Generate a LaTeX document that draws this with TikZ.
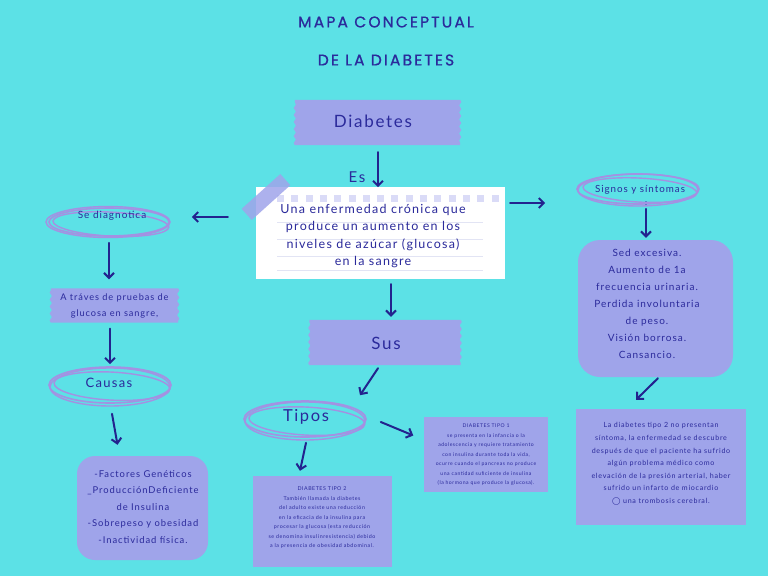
\documentclass[tikz,border=0pt]{standalone}
\usepackage{fontspec}
\setmainfont{Lato}
\newfontfamily\hand[LetterSpace=10]{Lato}
\newfontfamily\titlefont[LetterSpace=14,FakeBold=0.8]{Poppins}
\newfontfamily\symfont{DejaVu Sans}
\usetikzlibrary{arrows.meta,calc,shapes.geometric,decorations.pathmorphing}
\definecolor{bg}{HTML}{5CE1E6}
\definecolor{ink}{HTML}{2B2A9B}
\definecolor{arrowink}{HTML}{23238E}
\definecolor{boxc}{HTML}{9FA4EA}
\definecolor{ring}{HTML}{A491E2}
\definecolor{sqc}{HTML}{DADBF7}
\definecolor{rulec}{HTML}{E2E4F4}
\begin{document}
\begin{tikzpicture}[x=1pt,y=-1pt,
  every node/.style={text=ink, inner sep=0pt},
  arr/.style={draw=arrowink, line width=2pt, line cap=round,
    -{Straight Barb[length=5pt,width=10pt,line width=2pt]}},
  tapebox/.style={rectangle},
  wavy/.style={decoration={snake, amplitude=1.1pt, segment length=7pt}},
  roundbox/.style={fill=boxc, rectangle, rounded corners=18pt},
  flatbox/.style={fill=boxc, rectangle},
  ringnode/.style={ellipse, draw=ring, line width=1.6pt},
  ringextra/.style={draw=ring, line width=1.4pt}
]
\useasboundingbox (0,0) rectangle (768,576);
\fill[bg] (0,0) rectangle (768,576);

% title
\node[font=\titlefont\fontsize{15.5}{17}\selectfont] (t1) at (386,22) {MAPA CONCEPTUAL};
\node[font=\titlefont\fontsize{15.5}{17}\selectfont] (t2) at (386,60) {DE LA DIABETES};

% Diabetes
\node[tapebox, minimum width=165pt, minimum height=45pt] (diab) at (377.5,122.5) {};
\fill[boxc] (diab.north west) -- (diab.north east)
  decorate[wavy] {-- (diab.south east)} -- (diab.south west)
  decorate[wavy] {-- (diab.north west)} -- cycle;
\node[font=\hand\fontsize{17}{20}\selectfont] (diabt) at (373,121) {Diabetes};

% Es
\node[font=\hand\fontsize{15}{18}\selectfont] (es) at (357,177) {Es};

% note
\node[fill=white, minimum width=249pt, minimum height=92pt] (note) at (380.5,233) {};
\foreach \i in {0,...,15} {
  \fill[sqc] (277+14.3*\i,195) rectangle ++(7,7);
}
\foreach \yy in {222,239,256,270} {
  \draw[rulec, line width=0.8pt] (277,\yy) -- (483,\yy);
}
\node[fill=boxc, opacity=0.85, minimum width=52pt, minimum height=15pt, rotate=42] (tape) at (266,197) {};
\node[font=\hand\fontsize{12.5}{17.3}\selectfont, align=center] (notet) at (373,236)
  {Una enfermedad crónica que\\produce un aumento en los\\niveles de azúcar (glucosa)\\en la sangre};

% Se diagnotica
\node[ringnode, minimum width=120pt, minimum height=28pt] (sediag) at (109,222) {};
\draw[ringextra, rotate around={-3:(sediag.center)}] ($(sediag.center)+(2,2)$) ellipse [x radius=58pt, y radius=12pt];
\draw[ringextra] ($(sediag.center)+(-1,0)$) ellipse [x radius=62pt, y radius=15.5pt];
\node[font=\hand\fontsize{10}{12}\selectfont] (sediagt) at (112,216) {Se diagnotica};

% pruebas
\node[tapebox, minimum width=127pt, minimum height=34pt] (prueba) at (114.5,305.5) {};
\fill[boxc] (prueba.north west) -- (prueba.north east)
  decorate[wavy] {-- (prueba.south east)} -- (prueba.south west)
  decorate[wavy] {-- (prueba.north west)} -- cycle;
\node[font=\hand\fontsize{9.2}{16}\selectfont, align=center] (pruebat) at (114.5,306) {A tráves de pruebas de\\glucosa en sangre,};

% Causas
\node[ringnode, minimum width=122pt, minimum height=36pt] (causas) at (110,385) {};
\draw[ringextra, rotate around={-3:(causas.center)}] ($(causas.center)+(2,1)$) ellipse [x radius=58pt, y radius=14pt];
\draw[ringextra] ($(causas.center)+(0,2)$) ellipse [x radius=60pt, y radius=19pt];
\node[font=\hand\fontsize{13}{15}\selectfont] (causast) at (109,383) {Causas};

% causas box
\node[roundbox, minimum width=131pt, minimum height=104pt] (causasbox) at (142.5,508) {};
\node[font=\hand\fontsize{9.4}{16.5}\selectfont, align=center] (causasboxt) at (143,507)
  {-Factores Genéticos\\\_ProducciónDeficiente\\de Insulina\\-Sobrepeso y obesidad\\-Inactividad física.};

% Sus
\node[tapebox, minimum width=151pt, minimum height=45pt] (sus) at (385,342.5) {};
\fill[boxc] (sus.north west) -- (sus.north east)
  decorate[wavy] {-- (sus.south east)} -- (sus.south west)
  decorate[wavy] {-- (sus.north west)} -- cycle;
\node[font=\hand\fontsize{17}{20}\selectfont] (sust) at (386,343) {Sus};

% Tipos
\node[ringnode, minimum width=122pt, minimum height=36pt] (tipos) at (305,419) {};
\draw[ringextra, rotate around={-3:(tipos.center)}] ($(tipos.center)+(2,2)$) ellipse [x radius=58pt, y radius=14pt];
\draw[ringextra] ($(tipos.center)+(0,2)$) ellipse [x radius=60pt, y radius=19pt];
\node[font=\hand\fontsize{16.5}{18}\selectfont] (tipost) at (306,417) {Tipos};

% tipo 1
\node[flatbox, minimum width=124pt, minimum height=75pt] (tipo1) at (485.5,454.5) {};
\node[font=\hand\fontsize{5.1}{9.5}\selectfont, align=center] (tipo1t) at (486,455)
  {DIABETES TIPO 1\\se presenta en la infancia o la\\adolescencia y requiere tratamiento\\con insulina durante toda la vida,\\ocurre cuando el pancreas no produce\\una cantidad suficiente de insulina\\(la hormona que produce la glucosa).};

% tipo 2
\node[flatbox, minimum width=139pt, minimum height=91pt] (tipo2) at (322.5,521.5) {};
\node[font=\hand\fontsize{5.3}{9.5}\selectfont, align=center] (tipo2t) at (322,518)
  {DIABETES TIPO 2\\También llamada la diabetes\\del adulto existe una reducción\\en la eficacia de la insulina para\\procesar la glucosa (esta reducción\\se denomina insulinresistencia) debido\\a la presencia de obesidad abdominal.};

% Signos y sintomas
\node[ringnode, minimum width=122pt, minimum height=30pt] (signos) at (638,189) {};
\draw[ringextra, rotate around={-3:(signos.center)}] ($(signos.center)+(2,1)$) ellipse [x radius=57pt, y radius=12pt];
\draw[ringextra] ($(signos.center)+(0,1)$) ellipse [x radius=60pt, y radius=16pt];
\node[font=\hand\fontsize{9.8}{11}\selectfont] (signost) at (640,190) {Signos y síntomas};
\node[font=\hand\fontsize{8}{9}\selectfont] (colon) at (646,204) {:};

% signos box
\node[roundbox, minimum width=155pt, minimum height=137pt, rounded corners=22pt] (signosbox) at (655.5,308.5) {};
\node[font=\hand\fontsize{10}{17}\selectfont, align=center] (signosboxt) at (647,304)
  {Sed excesiva.\\Aumento de 1a\\frecuencia urinaria.\\Perdida involuntaria\\de peso.\\Visión borrosa.\\Cansancio.};

% sintoma box
\node[flatbox, minimum width=170pt, minimum height=116pt] (sint) at (661,467) {};
\node[font=\hand\fontsize{7.1}{12.6}\selectfont, align=center] (sintt) at (661,464)
  {La diabetes tipo 2 no presentan\\síntoma, la enfermedad se descubre\\después de que el paciente ha sufrido\\algún problema médico como\\elevación de la presión arterial, haber\\sufrido un infarto de miocardio\\{\symfont\fontsize{7.5}{8}\selectfont ◯} una trombosis cerebral.};

% arrows
\draw[arr] ($(diab.south)+(0.5,7)$) -- ($(diab.south)+(0.5,42)$);
\draw[arr] ($(note.west)+(-28,-16)$) -- ($(sediag.east)+(22,-5)$);
\draw[arr] ($(sediag.south)+(0,6)$) -- ($(prueba.north)+(-5.5,-9)$);
\draw[arr] ($(prueba.south)+(-4.5,6)$) -- ($(causas.north)+(0,-2)$);
\draw[arr] ($(causas.south)+(2,10)$) -- ($(causasbox.north)+(-25,-11)$);
\draw[arr] ($(note.south)+(10.5,5)$) -- ($(sus.north)+(6,-3)$);
\draw[arr] ($(sus.south)+(-7,3)$) -- ($(tipos.north)+(55,-5)$);
\draw[arr] ($(tipos.east)+(14,3)$) -- ($(tipo1.west)+(-10,-19)$);
\draw[arr] ($(tipos.south)+(1,5)$) -- ($(tipo2.north)+(-22.5,-5)$);
\draw[arr] ($(note.east)+(5,-30)$) -- ($(signos.west)+(-31,14)$);
\draw[arr] ($(signos.south)+(8,4)$) -- ($(signosbox.north)+(-9.5,-2)$);
\draw[arr] ($(signosbox.south)+(2.5,1)$) -- ($(sint.north)+(-25,-9)$);
\end{tikzpicture}
\end{document}
